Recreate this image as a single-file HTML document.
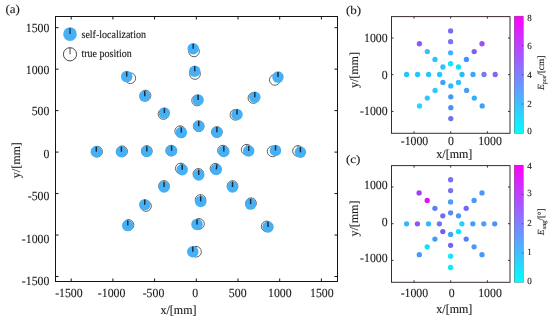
<!DOCTYPE html>
<html><head><meta charset="utf-8"><title>figure</title>
<style>
html,body{margin:0;padding:0;background:#fff;}
body{width:550px;height:320px;overflow:hidden;}
svg{display:block;font-family:'Liberation Serif', 'Times New Roman', serif;fill:#1a1a1a;text-rendering:geometricPrecision;}
svg text{fill:#1a1a1a;stroke:#1a1a1a;stroke-width:0.12px;}
</style></head>
<body>
<svg width="550" height="320" viewBox="0 0 550 320">
<rect width="550" height="320" fill="#ffffff"/>
<rect x="55.5" y="16.5" width="282.0" height="265.0" fill="none" stroke="#141414" stroke-width="1"/>
<line x1="71.2" y1="281.5" x2="71.2" y2="278.5" stroke="#141414" stroke-width="1"/>
<line x1="71.2" y1="16.5" x2="71.2" y2="19.5" stroke="#141414" stroke-width="1"/>
<line x1="55.5" y1="276.52" x2="58.5" y2="276.52" stroke="#141414" stroke-width="1"/>
<line x1="337.5" y1="276.52" x2="334.5" y2="276.52" stroke="#141414" stroke-width="1"/>
<text transform="translate(68.9 297) scale(1 1.05)" font-size="11.8" text-anchor="middle" >-1500</text>
<text transform="translate(49.4 284.6) scale(1 1.05)" font-size="11.8" text-anchor="end" >-1500</text>
<line x1="112.9" y1="281.5" x2="112.9" y2="278.5" stroke="#141414" stroke-width="1"/>
<line x1="112.9" y1="16.5" x2="112.9" y2="19.5" stroke="#141414" stroke-width="1"/>
<line x1="55.5" y1="235.05" x2="58.5" y2="235.05" stroke="#141414" stroke-width="1"/>
<line x1="337.5" y1="235.05" x2="334.5" y2="235.05" stroke="#141414" stroke-width="1"/>
<text transform="translate(111.6 297) scale(1 1.05)" font-size="11.8" text-anchor="middle" >-1000</text>
<text transform="translate(49.4 242.6) scale(1 1.05)" font-size="11.8" text-anchor="end" >-1000</text>
<line x1="154.6" y1="281.5" x2="154.6" y2="278.5" stroke="#141414" stroke-width="1"/>
<line x1="154.6" y1="16.5" x2="154.6" y2="19.5" stroke="#141414" stroke-width="1"/>
<line x1="55.5" y1="193.57" x2="58.5" y2="193.57" stroke="#141414" stroke-width="1"/>
<line x1="337.5" y1="193.57" x2="334.5" y2="193.57" stroke="#141414" stroke-width="1"/>
<text transform="translate(153.5 297) scale(1 1.05)" font-size="11.8" text-anchor="middle" >-500</text>
<text transform="translate(49.4 200) scale(1 1.05)" font-size="11.8" text-anchor="end" >-500</text>
<line x1="196.3" y1="281.5" x2="196.3" y2="278.5" stroke="#141414" stroke-width="1"/>
<line x1="196.3" y1="16.5" x2="196.3" y2="19.5" stroke="#141414" stroke-width="1"/>
<line x1="55.5" y1="152.1" x2="58.5" y2="152.1" stroke="#141414" stroke-width="1"/>
<line x1="337.5" y1="152.1" x2="334.5" y2="152.1" stroke="#141414" stroke-width="1"/>
<text transform="translate(195.3 297) scale(1 1.05)" font-size="11.8" text-anchor="middle" >0</text>
<text transform="translate(49.4 158) scale(1 1.05)" font-size="11.8" text-anchor="end" >0</text>
<line x1="238" y1="281.5" x2="238" y2="278.5" stroke="#141414" stroke-width="1"/>
<line x1="238" y1="16.5" x2="238" y2="19.5" stroke="#141414" stroke-width="1"/>
<line x1="55.5" y1="110.62" x2="58.5" y2="110.62" stroke="#141414" stroke-width="1"/>
<line x1="337.5" y1="110.62" x2="334.5" y2="110.62" stroke="#141414" stroke-width="1"/>
<text transform="translate(237.7 297) scale(1 1.05)" font-size="11.8" text-anchor="middle" >500</text>
<text transform="translate(49.4 114.65) scale(1 1.05)" font-size="11.8" text-anchor="end" >500</text>
<line x1="279.7" y1="281.5" x2="279.7" y2="278.5" stroke="#141414" stroke-width="1"/>
<line x1="279.7" y1="16.5" x2="279.7" y2="19.5" stroke="#141414" stroke-width="1"/>
<line x1="55.5" y1="69.15" x2="58.5" y2="69.15" stroke="#141414" stroke-width="1"/>
<line x1="337.5" y1="69.15" x2="334.5" y2="69.15" stroke="#141414" stroke-width="1"/>
<text transform="translate(279.8 297) scale(1 1.05)" font-size="11.8" text-anchor="middle" >1000</text>
<text transform="translate(49.4 73.8) scale(1 1.05)" font-size="11.8" text-anchor="end" >1000</text>
<line x1="321.4" y1="281.5" x2="321.4" y2="278.5" stroke="#141414" stroke-width="1"/>
<line x1="321.4" y1="16.5" x2="321.4" y2="19.5" stroke="#141414" stroke-width="1"/>
<line x1="55.5" y1="27.67" x2="58.5" y2="27.67" stroke="#141414" stroke-width="1"/>
<line x1="337.5" y1="27.67" x2="334.5" y2="27.67" stroke="#141414" stroke-width="1"/>
<text transform="translate(321.8 297) scale(1 1.05)" font-size="11.8" text-anchor="middle" >1500</text>
<text transform="translate(49.4 31.5) scale(1 1.05)" font-size="11.8" text-anchor="end" >1500</text>
<text transform="translate(178.5 313.5) scale(1 1.05)" font-size="12" text-anchor="middle" >x/[mm]</text>
<text transform="translate(19.5 160.2) rotate(-90)" font-size="12" text-anchor="middle">y/[mm]</text>
<text transform="translate(5.5 13) scale(1 0.93)" font-size="13" text-anchor="start" >(a)</text>
<circle cx="97.1" cy="151.7" r="5.35" fill="none" stroke="#3c3c3c" stroke-width="0.8"/>
<line x1="97.1" y1="151.7" x2="97.1" y2="146.35" stroke="#3c3c3c" stroke-width="0.8"/>
<circle cx="122.1" cy="151.3" r="5.35" fill="none" stroke="#3c3c3c" stroke-width="0.8"/>
<line x1="122.1" y1="151.3" x2="122.1" y2="145.95" stroke="#3c3c3c" stroke-width="0.8"/>
<circle cx="146.8" cy="151" r="5.35" fill="none" stroke="#3c3c3c" stroke-width="0.8"/>
<line x1="146.8" y1="151" x2="146.8" y2="145.65" stroke="#3c3c3c" stroke-width="0.8"/>
<circle cx="171.2" cy="150.6" r="5.35" fill="none" stroke="#3c3c3c" stroke-width="0.8"/>
<line x1="171.2" y1="150.6" x2="171.2" y2="145.25" stroke="#3c3c3c" stroke-width="0.8"/>
<circle cx="223" cy="150.6" r="5.35" fill="none" stroke="#3c3c3c" stroke-width="0.8"/>
<line x1="223" y1="150.6" x2="223" y2="145.25" stroke="#3c3c3c" stroke-width="0.8"/>
<circle cx="246.7" cy="149.7" r="5.35" fill="none" stroke="#3c3c3c" stroke-width="0.8"/>
<line x1="246.7" y1="149.7" x2="246.7" y2="144.35" stroke="#3c3c3c" stroke-width="0.8"/>
<circle cx="272.6" cy="151.4" r="5.35" fill="none" stroke="#3c3c3c" stroke-width="0.8"/>
<line x1="272.6" y1="151.4" x2="272.6" y2="146.05" stroke="#3c3c3c" stroke-width="0.8"/>
<circle cx="298" cy="151" r="5.35" fill="none" stroke="#3c3c3c" stroke-width="0.8"/>
<line x1="298" y1="151" x2="298" y2="145.65" stroke="#3c3c3c" stroke-width="0.8"/>
<circle cx="194" cy="51.4" r="5.35" fill="none" stroke="#3c3c3c" stroke-width="0.8"/>
<line x1="194" y1="51.4" x2="194" y2="46.05" stroke="#3c3c3c" stroke-width="0.8"/>
<circle cx="195" cy="74" r="5.35" fill="none" stroke="#3c3c3c" stroke-width="0.8"/>
<line x1="195" y1="74" x2="195" y2="68.65" stroke="#3c3c3c" stroke-width="0.8"/>
<circle cx="197.1" cy="100.5" r="5.35" fill="none" stroke="#3c3c3c" stroke-width="0.8"/>
<line x1="197.1" y1="100.5" x2="197.1" y2="95.15" stroke="#3c3c3c" stroke-width="0.8"/>
<circle cx="198.7" cy="126.2" r="5.35" fill="none" stroke="#3c3c3c" stroke-width="0.8"/>
<line x1="198.7" y1="126.2" x2="198.7" y2="120.85" stroke="#3c3c3c" stroke-width="0.8"/>
<circle cx="198.4" cy="173.9" r="5.35" fill="none" stroke="#3c3c3c" stroke-width="0.8"/>
<line x1="198.4" y1="173.9" x2="198.4" y2="168.55" stroke="#3c3c3c" stroke-width="0.8"/>
<circle cx="200.5" cy="200" r="5.35" fill="none" stroke="#3c3c3c" stroke-width="0.8"/>
<line x1="200.5" y1="200" x2="200.5" y2="194.65" stroke="#3c3c3c" stroke-width="0.8"/>
<circle cx="199" cy="223.9" r="5.35" fill="none" stroke="#3c3c3c" stroke-width="0.8"/>
<line x1="199" y1="223.9" x2="199" y2="218.55" stroke="#3c3c3c" stroke-width="0.8"/>
<circle cx="196" cy="251.7" r="5.35" fill="none" stroke="#3c3c3c" stroke-width="0.8"/>
<line x1="196" y1="251.7" x2="196" y2="246.35" stroke="#3c3c3c" stroke-width="0.8"/>
<circle cx="180.2" cy="131.2" r="5.35" fill="none" stroke="#3c3c3c" stroke-width="0.8"/>
<line x1="180.2" y1="131.2" x2="180.2" y2="125.85" stroke="#3c3c3c" stroke-width="0.8"/>
<circle cx="163.5" cy="114" r="5.35" fill="none" stroke="#3c3c3c" stroke-width="0.8"/>
<line x1="163.5" y1="114" x2="163.5" y2="108.65" stroke="#3c3c3c" stroke-width="0.8"/>
<circle cx="145.5" cy="95.5" r="5.35" fill="none" stroke="#3c3c3c" stroke-width="0.8"/>
<line x1="145.5" y1="95.5" x2="145.5" y2="90.15" stroke="#3c3c3c" stroke-width="0.8"/>
<circle cx="130.3" cy="78.2" r="5.35" fill="none" stroke="#3c3c3c" stroke-width="0.8"/>
<line x1="130.3" y1="78.2" x2="130.3" y2="72.85" stroke="#3c3c3c" stroke-width="0.8"/>
<circle cx="216.9" cy="132" r="5.35" fill="none" stroke="#3c3c3c" stroke-width="0.8"/>
<line x1="216.9" y1="132" x2="216.9" y2="126.65" stroke="#3c3c3c" stroke-width="0.8"/>
<circle cx="235.4" cy="114.8" r="5.35" fill="none" stroke="#3c3c3c" stroke-width="0.8"/>
<line x1="235.4" y1="114.8" x2="235.4" y2="109.45" stroke="#3c3c3c" stroke-width="0.8"/>
<circle cx="253.4" cy="98" r="5.35" fill="none" stroke="#3c3c3c" stroke-width="0.8"/>
<line x1="253.4" y1="98" x2="253.4" y2="92.65" stroke="#3c3c3c" stroke-width="0.8"/>
<circle cx="274.8" cy="79.9" r="5.35" fill="none" stroke="#3c3c3c" stroke-width="0.8"/>
<line x1="274.8" y1="79.9" x2="274.8" y2="74.55" stroke="#3c3c3c" stroke-width="0.8"/>
<circle cx="180.8" cy="168.5" r="5.35" fill="none" stroke="#3c3c3c" stroke-width="0.8"/>
<line x1="180.8" y1="168.5" x2="180.8" y2="163.15" stroke="#3c3c3c" stroke-width="0.8"/>
<circle cx="164" cy="186" r="5.35" fill="none" stroke="#3c3c3c" stroke-width="0.8"/>
<line x1="164" y1="186" x2="164" y2="180.65" stroke="#3c3c3c" stroke-width="0.8"/>
<circle cx="146" cy="206" r="5.35" fill="none" stroke="#3c3c3c" stroke-width="0.8"/>
<line x1="146" y1="206" x2="146" y2="200.65" stroke="#3c3c3c" stroke-width="0.8"/>
<circle cx="128.5" cy="225" r="5.35" fill="none" stroke="#3c3c3c" stroke-width="0.8"/>
<line x1="128.5" y1="225" x2="128.5" y2="219.65" stroke="#3c3c3c" stroke-width="0.8"/>
<circle cx="215.5" cy="168.7" r="5.35" fill="none" stroke="#3c3c3c" stroke-width="0.8"/>
<line x1="215.5" y1="168.7" x2="215.5" y2="163.35" stroke="#3c3c3c" stroke-width="0.8"/>
<circle cx="232.5" cy="186.1" r="5.35" fill="none" stroke="#3c3c3c" stroke-width="0.8"/>
<line x1="232.5" y1="186.1" x2="232.5" y2="180.75" stroke="#3c3c3c" stroke-width="0.8"/>
<circle cx="251" cy="203.2" r="5.35" fill="none" stroke="#3c3c3c" stroke-width="0.8"/>
<line x1="251" y1="203.2" x2="251" y2="197.85" stroke="#3c3c3c" stroke-width="0.8"/>
<circle cx="266.7" cy="226.4" r="5.35" fill="none" stroke="#3c3c3c" stroke-width="0.8"/>
<line x1="266.7" y1="226.4" x2="266.7" y2="221.05" stroke="#3c3c3c" stroke-width="0.8"/>
<circle cx="96.3" cy="151.7" r="5.75" fill="#47b0f4"/>
<line x1="96.3" y1="151.7" x2="96.3" y2="146.55" stroke="#1b2b3b" stroke-width="1.45"/>
<circle cx="121.4" cy="151.7" r="5.75" fill="#47b0f4"/>
<line x1="121.4" y1="151.7" x2="121.4" y2="146.55" stroke="#1b2b3b" stroke-width="1.45"/>
<circle cx="146.8" cy="151.4" r="5.75" fill="#47b0f4"/>
<line x1="146.8" y1="151.4" x2="146.8" y2="146.25" stroke="#1b2b3b" stroke-width="1.45"/>
<circle cx="171.6" cy="150.8" r="5.75" fill="#47b0f4"/>
<line x1="171.6" y1="150.8" x2="171.6" y2="145.65" stroke="#1b2b3b" stroke-width="1.45"/>
<circle cx="223.8" cy="151.5" r="5.75" fill="#47b0f4"/>
<line x1="223.8" y1="151.5" x2="223.8" y2="146.35" stroke="#1b2b3b" stroke-width="1.45"/>
<circle cx="248.7" cy="151" r="5.75" fill="#47b0f4"/>
<line x1="248.7" y1="151" x2="248.7" y2="145.85" stroke="#1b2b3b" stroke-width="1.45"/>
<circle cx="275.5" cy="150.5" r="5.75" fill="#47b0f4"/>
<line x1="275.5" y1="150.5" x2="275.5" y2="145.35" stroke="#1b2b3b" stroke-width="1.45"/>
<circle cx="300.4" cy="152.3" r="5.75" fill="#47b0f4"/>
<line x1="300.4" y1="152.3" x2="300.4" y2="147.15" stroke="#1b2b3b" stroke-width="1.45"/>
<circle cx="193.2" cy="48.8" r="5.75" fill="#47b0f4"/>
<line x1="193.2" y1="48.8" x2="193.2" y2="43.65" stroke="#1b2b3b" stroke-width="1.45"/>
<circle cx="194.7" cy="71.3" r="5.75" fill="#47b0f4"/>
<line x1="194.7" y1="71.3" x2="194.7" y2="66.15" stroke="#1b2b3b" stroke-width="1.45"/>
<circle cx="198.1" cy="100" r="5.75" fill="#47b0f4"/>
<line x1="198.1" y1="100" x2="198.1" y2="94.85" stroke="#1b2b3b" stroke-width="1.45"/>
<circle cx="198.7" cy="126.2" r="5.75" fill="#47b0f4"/>
<line x1="198.7" y1="126.2" x2="198.7" y2="121.05" stroke="#1b2b3b" stroke-width="1.45"/>
<circle cx="198.7" cy="175" r="5.75" fill="#47b0f4"/>
<line x1="198.7" y1="175" x2="198.7" y2="169.85" stroke="#1b2b3b" stroke-width="1.45"/>
<circle cx="200.7" cy="201.5" r="5.75" fill="#47b0f4"/>
<line x1="200.7" y1="201.5" x2="200.7" y2="196.35" stroke="#1b2b3b" stroke-width="1.45"/>
<circle cx="197" cy="224.4" r="5.75" fill="#47b0f4"/>
<line x1="197" y1="224.4" x2="197" y2="219.25" stroke="#1b2b3b" stroke-width="1.45"/>
<circle cx="192.8" cy="251.7" r="5.75" fill="#47b0f4"/>
<line x1="192.8" y1="251.7" x2="192.8" y2="246.55" stroke="#1b2b3b" stroke-width="1.45"/>
<circle cx="181.3" cy="132.6" r="5.75" fill="#47b0f4"/>
<line x1="181.3" y1="132.6" x2="181.3" y2="127.45" stroke="#1b2b3b" stroke-width="1.45"/>
<circle cx="164.4" cy="113.1" r="5.75" fill="#47b0f4"/>
<line x1="164.4" y1="113.1" x2="164.4" y2="107.95" stroke="#1b2b3b" stroke-width="1.45"/>
<circle cx="144.75" cy="96.25" r="5.75" fill="#47b0f4"/>
<line x1="144.75" y1="96.25" x2="144.75" y2="91.1" stroke="#1b2b3b" stroke-width="1.45"/>
<circle cx="126.7" cy="76.6" r="5.75" fill="#47b0f4"/>
<line x1="126.7" y1="76.6" x2="126.7" y2="71.45" stroke="#1b2b3b" stroke-width="1.45"/>
<circle cx="216.9" cy="132.2" r="5.75" fill="#47b0f4"/>
<line x1="216.9" y1="132.2" x2="216.9" y2="127.05" stroke="#1b2b3b" stroke-width="1.45"/>
<circle cx="237" cy="114.5" r="5.75" fill="#47b0f4"/>
<line x1="237" y1="114.5" x2="237" y2="109.35" stroke="#1b2b3b" stroke-width="1.45"/>
<circle cx="254.8" cy="97.2" r="5.75" fill="#47b0f4"/>
<line x1="254.8" y1="97.2" x2="254.8" y2="92.05" stroke="#1b2b3b" stroke-width="1.45"/>
<circle cx="278" cy="77.1" r="5.75" fill="#47b0f4"/>
<line x1="278" y1="77.1" x2="278" y2="71.95" stroke="#1b2b3b" stroke-width="1.45"/>
<circle cx="182.2" cy="169.7" r="5.75" fill="#47b0f4"/>
<line x1="182.2" y1="169.7" x2="182.2" y2="164.55" stroke="#1b2b3b" stroke-width="1.45"/>
<circle cx="164.1" cy="187" r="5.75" fill="#47b0f4"/>
<line x1="164.1" y1="187" x2="164.1" y2="181.85" stroke="#1b2b3b" stroke-width="1.45"/>
<circle cx="144.75" cy="204.7" r="5.75" fill="#47b0f4"/>
<line x1="144.75" y1="204.7" x2="144.75" y2="199.55" stroke="#1b2b3b" stroke-width="1.45"/>
<circle cx="127.75" cy="225.6" r="5.75" fill="#47b0f4"/>
<line x1="127.75" y1="225.6" x2="127.75" y2="220.45" stroke="#1b2b3b" stroke-width="1.45"/>
<circle cx="216.3" cy="169.5" r="5.75" fill="#47b0f4"/>
<line x1="216.3" y1="169.5" x2="217.02" y2="164.4" stroke="#1b2b3b" stroke-width="1.45"/>
<circle cx="232.5" cy="187" r="5.75" fill="#47b0f4"/>
<line x1="232.5" y1="187" x2="232.5" y2="181.85" stroke="#1b2b3b" stroke-width="1.45"/>
<circle cx="250.6" cy="204.1" r="5.75" fill="#47b0f4"/>
<line x1="250.6" y1="204.1" x2="250.6" y2="198.95" stroke="#1b2b3b" stroke-width="1.45"/>
<circle cx="268" cy="227" r="5.75" fill="#47b0f4"/>
<line x1="268" y1="227" x2="268" y2="221.85" stroke="#1b2b3b" stroke-width="1.45"/>
<circle cx="70" cy="34.1" r="6.8" fill="#47b0f4"/>
<line x1="70" y1="34.1" x2="70" y2="28" stroke="#1b2b3b" stroke-width="1.2"/>
<text transform="translate(81.5 37.6) scale(1 1.12)" font-size="10" text-anchor="start" >self-localization</text>
<circle cx="70" cy="54.3" r="6.6" fill="none" stroke="#333" stroke-width="0.9"/>
<line x1="70" y1="54.3" x2="70" y2="47.7" stroke="#333" stroke-width="0.9"/>
<text transform="translate(81.5 57.2) scale(1 1.12)" font-size="10" text-anchor="start" >true position</text>
<rect x="391.5" y="16.6" width="118.5" height="116.70000000000002" fill="none" stroke="#3a2c2c" stroke-width="1"/>
<line x1="414" y1="133.3" x2="414" y2="131.3" stroke="#3a2c2c" stroke-width="1"/>
<line x1="414" y1="16.6" x2="414" y2="18.6" stroke="#3a2c2c" stroke-width="1"/>
<line x1="391.5" y1="111.4" x2="393.5" y2="111.4" stroke="#3a2c2c" stroke-width="1"/>
<line x1="510.0" y1="111.4" x2="508.0" y2="111.4" stroke="#3a2c2c" stroke-width="1"/>
<text transform="translate(414.5 144.6) scale(1 1.05)" font-size="11.8" text-anchor="middle" >-1000</text>
<text transform="translate(387.6 114.5) scale(1 1.05)" font-size="11.8" text-anchor="end" >-1000</text>
<line x1="450.7" y1="133.3" x2="450.7" y2="131.3" stroke="#3a2c2c" stroke-width="1"/>
<line x1="450.7" y1="16.6" x2="450.7" y2="18.6" stroke="#3a2c2c" stroke-width="1"/>
<line x1="391.5" y1="74.7" x2="393.5" y2="74.7" stroke="#3a2c2c" stroke-width="1"/>
<line x1="510.0" y1="74.7" x2="508.0" y2="74.7" stroke="#3a2c2c" stroke-width="1"/>
<text transform="translate(450.9 144.6) scale(1 1.05)" font-size="11.8" text-anchor="middle" >0</text>
<text transform="translate(387.6 79.3) scale(1 1.05)" font-size="11.8" text-anchor="end" >0</text>
<line x1="487.4" y1="133.3" x2="487.4" y2="131.3" stroke="#3a2c2c" stroke-width="1"/>
<line x1="487.4" y1="16.6" x2="487.4" y2="18.6" stroke="#3a2c2c" stroke-width="1"/>
<line x1="391.5" y1="38" x2="393.5" y2="38" stroke="#3a2c2c" stroke-width="1"/>
<line x1="510.0" y1="38" x2="508.0" y2="38" stroke="#3a2c2c" stroke-width="1"/>
<text transform="translate(490 144.6) scale(1 1.05)" font-size="11.8" text-anchor="middle" >1000</text>
<text transform="translate(387.6 42) scale(1 1.05)" font-size="11.8" text-anchor="end" >1000</text>
<text transform="translate(454.3 157.6) scale(1 1.05)" font-size="12" text-anchor="middle" >x/[mm]</text>
<text transform="translate(358 70.1) rotate(-90)" font-size="12" text-anchor="middle">y/[mm]</text>
<text transform="translate(346 14.2) scale(1 0.9)" font-size="13" text-anchor="start" >(b)</text>
<circle cx="450.6" cy="30.9" r="2.65" fill="#7a6ef5"/>
<circle cx="450.6" cy="41.7" r="2.65" fill="#7878f2"/>
<circle cx="450.6" cy="52.8" r="2.65" fill="#40b0ff"/>
<circle cx="450.6" cy="63.75" r="2.65" fill="#10e4ff"/>
<circle cx="450.8" cy="85.9" r="2.65" fill="#30b8ff"/>
<circle cx="450.8" cy="96.8" r="2.65" fill="#4098f8"/>
<circle cx="450.8" cy="107.7" r="2.65" fill="#4890f8"/>
<circle cx="450.8" cy="118.6" r="2.65" fill="#7070f0"/>
<circle cx="406.6" cy="74.5" r="2.65" fill="#20c8ff"/>
<circle cx="417.6" cy="74.5" r="2.65" fill="#28c4ff"/>
<circle cx="428.6" cy="74.5" r="2.65" fill="#28c4ff"/>
<circle cx="439.6" cy="74.5" r="2.65" fill="#28c4ff"/>
<circle cx="462" cy="74.5" r="2.65" fill="#20c0ff"/>
<circle cx="473" cy="74.5" r="2.65" fill="#40a4ff"/>
<circle cx="484" cy="74.5" r="2.65" fill="#7878f0"/>
<circle cx="495.2" cy="74.5" r="2.65" fill="#8068f0"/>
<circle cx="419.4" cy="43.75" r="2.65" fill="#8a5af5"/>
<circle cx="427.3" cy="51.6" r="2.65" fill="#38c0fa"/>
<circle cx="435" cy="59.4" r="2.65" fill="#30c0ff"/>
<circle cx="442.9" cy="67" r="2.65" fill="#30c0ff"/>
<circle cx="482" cy="43.75" r="2.65" fill="#a050f0"/>
<circle cx="474.2" cy="51.6" r="2.65" fill="#8060f0"/>
<circle cx="466.4" cy="59.4" r="2.65" fill="#4090ff"/>
<circle cx="458.5" cy="67" r="2.65" fill="#10e0ff"/>
<circle cx="442.9" cy="82.4" r="2.65" fill="#40a0f8"/>
<circle cx="435.1" cy="90.4" r="2.65" fill="#30c8ff"/>
<circle cx="427.3" cy="98.1" r="2.65" fill="#30c8ff"/>
<circle cx="419.5" cy="105.9" r="2.65" fill="#20d8ff"/>
<circle cx="458.5" cy="82.4" r="2.65" fill="#30c0ff"/>
<circle cx="466.6" cy="90.4" r="2.65" fill="#40a0f8"/>
<circle cx="474.3" cy="98.1" r="2.65" fill="#30b0ff"/>
<circle cx="482.2" cy="105.9" r="2.65" fill="#40a0f8"/>
<defs><linearGradient id="g0" x1="0" y1="1" x2="0" y2="0"><stop offset="0" stop-color="#00ffff"/><stop offset="1" stop-color="#ff00ff"/></linearGradient></defs>
<rect x="514.3" y="16.2" width="9" height="117.1" fill="url(#g0)" stroke="#000" stroke-opacity="0.45" stroke-width="0.6"/>
<text transform="translate(527.2 133.9) scale(1 1.05)" font-size="9" text-anchor="start" >0</text>
<line x1="523.3" y1="104.03" x2="521.8" y2="104.03" stroke="#333" stroke-width="0.6"/>
<text transform="translate(527.2 107.3) scale(1 1.05)" font-size="9" text-anchor="start" >2</text>
<line x1="523.3" y1="74.75" x2="521.8" y2="74.75" stroke="#333" stroke-width="0.6"/>
<text transform="translate(527.2 77.8) scale(1 1.05)" font-size="9" text-anchor="start" >4</text>
<line x1="523.3" y1="45.48" x2="521.8" y2="45.48" stroke="#333" stroke-width="0.6"/>
<text transform="translate(527.2 49.1) scale(1 1.05)" font-size="9" text-anchor="start" >6</text>
<text transform="translate(527.2 21.2) scale(1 1.05)" font-size="9" text-anchor="start" >8</text>
<text transform="translate(544.2 72.75) rotate(-90)" font-size="9.4" text-anchor="middle"><tspan font-style="italic">E</tspan><tspan font-size="6" dy="1.9">pos</tspan><tspan dy="-1.9">/[cm]</tspan></text>
<rect x="391.5" y="165.6" width="118.5" height="116.70000000000002" fill="none" stroke="#3a2c2c" stroke-width="1"/>
<line x1="414" y1="282.3" x2="414" y2="280.3" stroke="#3a2c2c" stroke-width="1"/>
<line x1="414" y1="165.6" x2="414" y2="167.6" stroke="#3a2c2c" stroke-width="1"/>
<line x1="391.5" y1="260.4" x2="393.5" y2="260.4" stroke="#3a2c2c" stroke-width="1"/>
<line x1="510.0" y1="260.4" x2="508.0" y2="260.4" stroke="#3a2c2c" stroke-width="1"/>
<text transform="translate(414.4 296.5) scale(1 1.05)" font-size="11.8" text-anchor="middle" >-1000</text>
<text transform="translate(387.6 262.4) scale(1 1.05)" font-size="11.8" text-anchor="end" >-1000</text>
<line x1="450.7" y1="282.3" x2="450.7" y2="280.3" stroke="#3a2c2c" stroke-width="1"/>
<line x1="450.7" y1="165.6" x2="450.7" y2="167.6" stroke="#3a2c2c" stroke-width="1"/>
<line x1="391.5" y1="223.7" x2="393.5" y2="223.7" stroke="#3a2c2c" stroke-width="1"/>
<line x1="510.0" y1="223.7" x2="508.0" y2="223.7" stroke="#3a2c2c" stroke-width="1"/>
<text transform="translate(451.7 296.5) scale(1 1.05)" font-size="11.8" text-anchor="middle" >0</text>
<text transform="translate(387.6 225.9) scale(1 1.05)" font-size="11.8" text-anchor="end" >0</text>
<line x1="487.4" y1="282.3" x2="487.4" y2="280.3" stroke="#3a2c2c" stroke-width="1"/>
<line x1="487.4" y1="165.6" x2="487.4" y2="167.6" stroke="#3a2c2c" stroke-width="1"/>
<line x1="391.5" y1="187" x2="393.5" y2="187" stroke="#3a2c2c" stroke-width="1"/>
<line x1="510.0" y1="187" x2="508.0" y2="187" stroke="#3a2c2c" stroke-width="1"/>
<text transform="translate(490 296.5) scale(1 1.05)" font-size="11.8" text-anchor="middle" >1000</text>
<text transform="translate(387.6 189.3) scale(1 1.05)" font-size="11.8" text-anchor="end" >1000</text>
<text transform="translate(454.3 313.3) scale(1 1.05)" font-size="12" text-anchor="middle" >x/[mm]</text>
<text transform="translate(358 218.6) rotate(-90)" font-size="12" text-anchor="middle">y/[mm]</text>
<text transform="translate(346 163) scale(1 0.9)" font-size="13" text-anchor="start" >(c)</text>
<circle cx="450.6" cy="179.75" r="2.65" fill="#7a70f0"/>
<circle cx="450.6" cy="190.6" r="2.65" fill="#7a70f0"/>
<circle cx="450.6" cy="201.9" r="2.65" fill="#40a0f8"/>
<circle cx="450.6" cy="212.8" r="2.65" fill="#5888f0"/>
<circle cx="450.6" cy="234.4" r="2.65" fill="#3aa8f8"/>
<circle cx="450.6" cy="245.3" r="2.65" fill="#7068f0"/>
<circle cx="450.6" cy="256.2" r="2.65" fill="#10e8ff"/>
<circle cx="450.6" cy="267.5" r="2.65" fill="#10e8ff"/>
<circle cx="406.6" cy="223.8" r="2.65" fill="#30b8ff"/>
<circle cx="417.4" cy="223.8" r="2.65" fill="#8060f0"/>
<circle cx="428.5" cy="223.8" r="2.65" fill="#30b8ff"/>
<circle cx="439.4" cy="223.8" r="2.65" fill="#6878f0"/>
<circle cx="461.9" cy="223.8" r="2.65" fill="#20d0ff"/>
<circle cx="472.8" cy="223.8" r="2.65" fill="#40a0f8"/>
<circle cx="483.8" cy="223.8" r="2.65" fill="#48a0f8"/>
<circle cx="494.7" cy="223.8" r="2.65" fill="#5090f8"/>
<circle cx="419.1" cy="192.9" r="2.65" fill="#a040f0"/>
<circle cx="427.2" cy="200.4" r="2.65" fill="#e010f8"/>
<circle cx="434.9" cy="208.3" r="2.65" fill="#5a80f0"/>
<circle cx="442.8" cy="215.8" r="2.65" fill="#6a70f0"/>
<circle cx="482" cy="192.9" r="2.65" fill="#4898f8"/>
<circle cx="474.1" cy="200.4" r="2.65" fill="#4898f8"/>
<circle cx="466.2" cy="208.3" r="2.65" fill="#7068f0"/>
<circle cx="458.5" cy="215.8" r="2.65" fill="#4898f8"/>
<circle cx="442.8" cy="231.6" r="2.65" fill="#7060f0"/>
<circle cx="434.9" cy="239.1" r="2.65" fill="#40a0f8"/>
<circle cx="427.2" cy="246.8" r="2.65" fill="#10e0ff"/>
<circle cx="419.3" cy="254.7" r="2.65" fill="#4898f8"/>
<circle cx="458.5" cy="231.6" r="2.65" fill="#10e0ff"/>
<circle cx="466.2" cy="239.1" r="2.65" fill="#5880f0"/>
<circle cx="474.1" cy="246.8" r="2.65" fill="#4898f8"/>
<circle cx="482" cy="254.7" r="2.65" fill="#4898f8"/>
<defs><linearGradient id="g149" x1="0" y1="1" x2="0" y2="0"><stop offset="0" stop-color="#00ffff"/><stop offset="1" stop-color="#ff00ff"/></linearGradient></defs>
<rect x="514.3" y="165.2" width="9" height="117.1" fill="url(#g149)" stroke="#000" stroke-opacity="0.45" stroke-width="0.6"/>
<text transform="translate(527.2 284.1) scale(1 1.05)" font-size="9" text-anchor="start" >0</text>
<line x1="523.3" y1="253.03" x2="521.8" y2="253.03" stroke="#333" stroke-width="0.6"/>
<text transform="translate(527.2 255) scale(1 1.05)" font-size="9" text-anchor="start" >1</text>
<line x1="523.3" y1="223.75" x2="521.8" y2="223.75" stroke="#333" stroke-width="0.6"/>
<text transform="translate(527.2 225.9) scale(1 1.05)" font-size="9" text-anchor="start" >2</text>
<line x1="523.3" y1="194.47" x2="521.8" y2="194.47" stroke="#333" stroke-width="0.6"/>
<text transform="translate(527.2 196.3) scale(1 1.05)" font-size="9" text-anchor="start" >3</text>
<text transform="translate(527.2 169.4) scale(1 1.05)" font-size="9" text-anchor="start" >4</text>
<text transform="translate(544.2 221.75) rotate(-90)" font-size="9.4" text-anchor="middle"><tspan font-style="italic">E</tspan><tspan font-size="6" dy="1.9">ang</tspan><tspan dy="-1.9">/[°]</tspan></text>
</svg>
</body></html>
